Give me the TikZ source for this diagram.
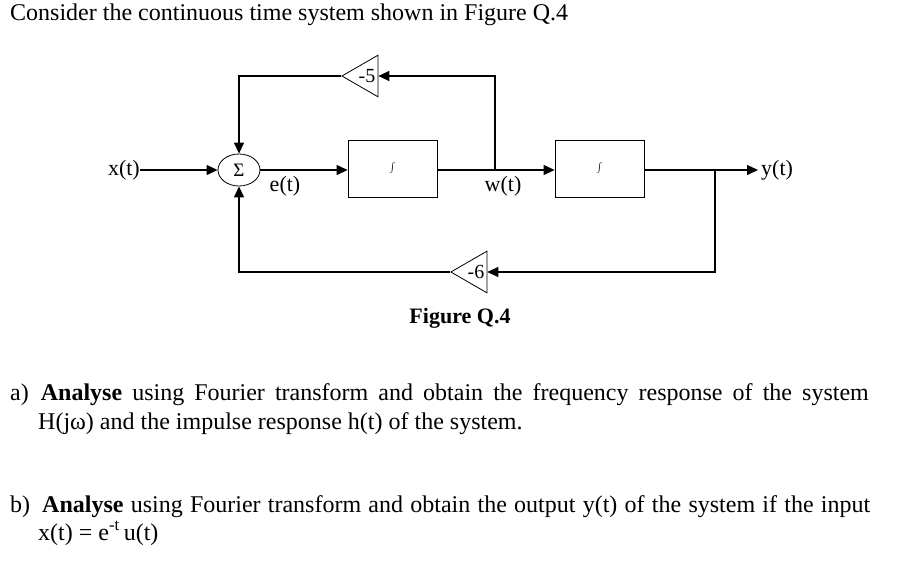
\documentclass[tikz,border=0pt]{standalone}
\usepackage{fontspec}
\setmainfont{Liberation Serif}
\usetikzlibrary{shapes.geometric,arrows.meta}
\begin{document}
\begin{tikzpicture}[x=1pt,y=-1pt,
  ln/.style={line width=1.2pt},
  arr/.style={ln,-{Triangle[length=11pt,width=10pt]}},
  blk/.style={draw,line width=0.8pt,minimum width=89pt,minimum height=57pt,inner sep=0pt,font=\fontsize{26}{26}\selectfont},
  gain/.style={draw,line width=0.8pt,isosceles triangle,isosceles triangle apex angle=60,inner sep=0pt,minimum height=36pt,font=\fontsize{20}{20}\selectfont},
  lbl/.style={font=\fontsize{22}{22}\selectfont,inner sep=0pt},
  txt/.style={font=\fontsize{24}{26}\selectfont,inner sep=0pt,anchor=base west}]
\useasboundingbox (0,0) rectangle (898,584);
\fill[white] (0,0) rectangle (898,584);
\node[txt] (title) at (10,20) {Consider the continuous time system shown in Figure Q.4};
% diagram
\node[draw,ellipse,line width=0.8pt,minimum width=42pt,minimum height=32pt,inner sep=0pt,font=\fontsize{19}{19}\selectfont] (sum) at (239,170) {Σ};
\node[lbl,anchor=east] (x) at (140,170) {x(t)};
\node[blk] (i1) at (392.5,168.5) {$\int$};
\node[blk] (i2) at (599.5,168.5) {$\int$};
\node[gain,shape border rotate=180] (g5) at (367,76) {-5};
\node[gain,shape border rotate=180] (g6) at (476,272) {-6};
\coordinate (w) at (495,170);
\coordinate (yb) at (715,170);
\coordinate (yend) at (758,170);
\node[lbl,anchor=west] (y) at (761,170) {y(t)};
\node[lbl] (e) at (285,186) {e(t)};
\node[lbl] (wl) at (503,186) {w(t)};
\node[font=\bfseries\fontsize{22}{22}\selectfont,inner sep=0pt] (fig) at (460,318) {Figure Q.4};
\draw[arr] (x.east) -- (sum.west);
\draw[arr] (sum.east) -- (i1.west |- sum.east);
\draw[ln] (i1.east |- w) -- (w);
\draw[arr] (w) -- (i2.west |- w);
\draw[arr] (i2.east |- w) -- (yend);
\draw[arr] (w) -- (w |- g5.east) -- (g5.east);
\draw[arr] (g5.apex) -- (sum.north |- g5.apex) -- (sum.north);
\draw[arr] (yb) -- (yb |- g6.east) -- (g6.east);
\draw[arr] (g6.apex) -- (sum.south |- g6.apex) -- (sum.south);
% questions
\node[txt] (a1) at (10,400) {a)\hspace{12pt}\makebox[828pt][s]{\textbf{Analyse} using Fourier transform and obtain the frequency response of the system}};
\node[txt] (a2) at (38,429) {H(jω) and the impulse response h(t) of the system.};
\node[txt] (b1) at (10,512) {b)\hspace{12pt}\makebox[828pt][s]{\textbf{Analyse} using Fourier transform and obtain the output y(t) of the system if the input}};
\node[txt] (b2) at (38,540) {x(t) = e\textsuperscript{-t}\,u(t)};
\end{tikzpicture}
\end{document}
